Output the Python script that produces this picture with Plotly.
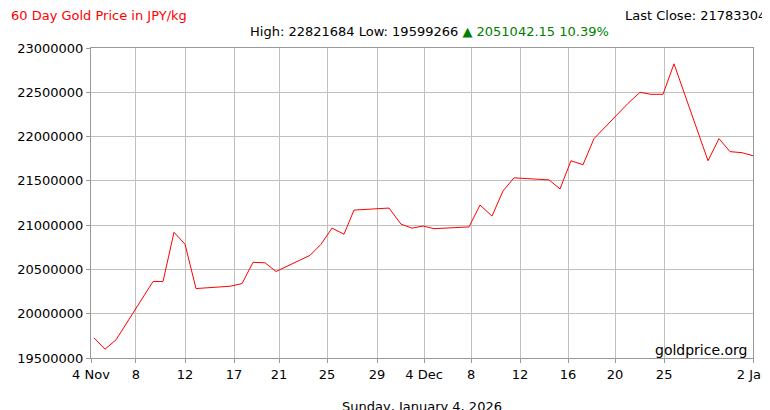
import plotly.graph_objects as go

# x is position along the axis in day units from 4 Nov
day_pos = [0.27, 1.25, 2.23, 5.53, 6.42, 7.40, 8.38, 9.36, 12.39, 13.46, 14.44, 15.51, 16.49,
           19.52, 20.50, 21.48, 22.55, 23.44, 26.56, 27.63, 28.61, 29.59, 30.57, 33.69, 34.67,
           35.74, 36.72, 37.70, 40.82, 41.80, 42.78, 43.85, 44.83, 47.86, 48.93, 49.91, 50.98,
           51.96, 54.99, 55.97, 56.95, 58.02, 59.0]
price = [19727000, 19599266, 19705000, 20364000, 20364000, 20920000, 20784000, 20284000,
         20310000, 20340000, 20580000, 20575000, 20477000, 20659000, 20784000, 20966000,
         20898000, 21170000, 21193000, 21011000, 20966000, 20990000, 20960000, 20980000,
         21227000, 21102000, 21386000, 21534000, 21511000, 21409000, 21727000, 21682000,
         21977000, 22375000, 22500000, 22477000, 22477000, 22821684, 21727000, 21977000,
         21830000, 21818000, 21783304]

tick_vals = [0, 4.01, 8.38, 12.75, 16.76, 21.04, 25.49, 29.68, 33.87, 38.24, 42.52, 46.71, 51.08, 59]
tick_text = ["4 Nov", "8", "12", "17", "21", "25", "29", "4 Dec", "8", "12", "16", "20", "25", "2 Jan"]
y_ticks = list(range(19500000, 23000001, 500000))

font = "DejaVu Sans"
fig = go.Figure()
fig.add_trace(go.Scatter(x=day_pos, y=price, mode="lines", line=dict(color="#ff0000", width=1)))

fig.update_layout(
    width=770, height=410, margin=dict(l=83, r=25, t=40, b=60, autoexpand=False),
    paper_bgcolor="white", plot_bgcolor="white", showlegend=False,
    font=dict(family=font, size=13, color="#000"),
)
fig.update_xaxes(range=[0, 59], tickvals=tick_vals, ticktext=tick_text, showgrid=True,
                 gridcolor="#c0c0c0", showline=True, linecolor="#999", mirror=True,
                 ticks="outside", ticklen=4, tickcolor="#999", zeroline=False, automargin=False)
fig.update_yaxes(range=[19500000, 23000000], tickvals=y_ticks, ticktext=[str(v) for v in y_ticks],
                 showgrid=True, gridcolor="#c0c0c0", showline=True, linecolor="#999", mirror=True,
                 ticks="outside", ticklen=4, tickcolor="#999", zeroline=False, automargin=False)

# paper coords: plot area is 662 x 310 px
fig.add_annotation(text="60 Day Gold Price in JPY/kg", x=-0.125, y=1.129, xref="paper", yref="paper",
                   xanchor="left", yanchor="top", showarrow=False, font=dict(color="#ff0000", size=13),
                   xshift=1, yshift=2)
fig.add_annotation(text="Last Close: 21783304", x=1.038, y=1.129, xref="paper", yref="paper",
                   xanchor="right", yanchor="top", showarrow=False, font=dict(size=13), xshift=-10, yshift=2)
fig.add_annotation(text="High: 22821684 Low: 19599266 <span style='color:#008000'>▲ 2051042.15 10.39%</span>",
                   x=0.785, y=1.129, xref="paper", yref="paper", xanchor="right", yanchor="top",
                   showarrow=False, font=dict(size=13), yshift=-14)
fig.add_annotation(text="goldprice.org", x=59, y=19500000, xref="x", yref="y", xanchor="right",
                   yanchor="bottom", showarrow=False, font=dict(size=14), xshift=-4, yshift=-2)
fig.add_annotation(text="Sunday, January 4, 2026", x=0.5, y=-0.194, xref="paper", yref="paper",
                   xanchor="center", yanchor="bottom", showarrow=False, font=dict(size=13), yshift=2)

fig.write_html("out.html")
